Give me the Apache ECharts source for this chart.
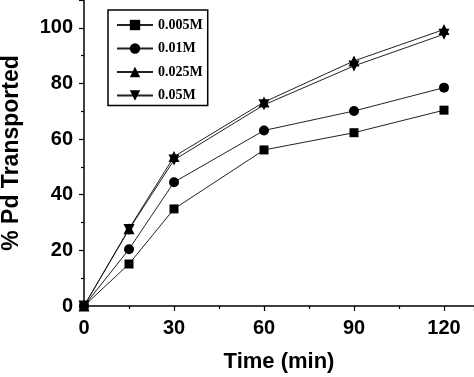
<!DOCTYPE html>
<html>
<head>
<meta charset="utf-8">
<script src="https://cdn.jsdelivr.net/npm/echarts@6/dist/echarts.min.js"></script>
<style>
  html, body { margin: 0; padding: 0; background: #fff; }
  #chart { width: 474px; height: 377px; }
</style>
</head>
<body>
<div id="chart"></div>
<script>
// ----- data -----
const times = [0, 15, 30, 60, 90, 120];
const seriesNames = ['0.005M', '0.01M', '0.025M', '0.05M'];
const pd005 = [0, 15.1, 34.9, 56.1, 62.3, 70.4];
const pd01 = [0, 20.4, 44.5, 63.1, 70.1, 78.5];
const pd025 = [0, 27.8, 53.7, 73.3, 88.1, 99.4];
const pd05 = [0, 27.5, 52.5, 72.3, 86.3, 97.7];
const xTickLabels = [0, 30, 60, 90, 120];
const yTickLabels = [0, 20, 40, 60, 80, 100];

const values = [pd005, pd01, pd025, pd05];
const symbols = ['rect', 'circle', 'triangle', 'triangle'];
const rotates = [0, 0, 0, 180];
const sizes = [9, 10, 11, 11];

function pairs(ys) {
  return times.map((t, i) => [t, ys[i]]);
}

const chart = echarts.init(document.getElementById('chart'), null, { renderer: 'canvas' });

chart.setOption({
  backgroundColor: '#fff',
  animation: false,
  grid: { left: 84, right: 0, top: 0, bottom: 71, containLabel: false, outerBoundsMode: 'none' },
  legend: {
    orient: 'vertical',
    left: 108,
    top: 10,
    padding: [8, 5, 3, 8],
    borderColor: '#000',
    borderWidth: 1.5,
    itemWidth: 36,
    itemHeight: 13,
    itemGap: 9.5,
    textStyle: { fontFamily: 'Liberation Serif', fontWeight: 'bold', fontSize: 14, color: '#000' },
    data: seriesNames
  },
  xAxis: {
    type: 'value',
    min: 0,
    max: 130,
    interval: 30,
    name: 'Time (min)',
    nameLocation: 'middle',
    nameGap: 45,
    nameTextStyle: { fontFamily: 'Liberation Sans', fontWeight: 'bold', fontSize: 22, color: '#000' },
    axisLine: { lineStyle: { color: '#000', width: 1.5 } },
    axisTick: { inside: false, length: 5, lineStyle: { color: '#000', width: 1.2 } },
    minorTick: { show: true, splitNumber: 2, length: 3, lineStyle: { color: '#000', width: 1.2 } },
    splitLine: { show: false },
    axisLabel: {
      margin: 12,
      fontFamily: 'Liberation Sans', fontWeight: 'bold', fontSize: 20, color: '#000',
      formatter: (v) => (xTickLabels.includes(v) ? String(v) : '')
    }
  },
  yAxis: {
    type: 'value',
    min: 0,
    max: 110,
    interval: 20,
    name: '% Pd Transported',
    nameLocation: 'middle',
    nameGap: 61,
    nameTextStyle: { fontFamily: 'Liberation Sans', fontWeight: 'bold', fontSize: 23, color: '#000' },
    axisLine: { show: true, lineStyle: { color: '#000', width: 1.5 } },
    axisTick: { show: true, inside: false, length: 5, lineStyle: { color: '#000', width: 1.2 } },
    minorTick: { show: true, splitNumber: 2, length: 3, lineStyle: { color: '#000', width: 1.2 } },
    splitLine: { show: false },
    axisLabel: {
      margin: 11,
      fontFamily: 'Liberation Sans', fontWeight: 'bold', fontSize: 20, color: '#000',
      formatter: (v) => (yTickLabels.includes(v) ? String(v) : '')
    }
  },
  series: seriesNames.map((name, i) => ({
    name,
    type: 'line',
    data: pairs(values[i]),
    symbol: symbols[i],
    symbolSize: sizes[i],
    symbolRotate: rotates[i],
    showAllSymbol: true,
    clip: false,
    lineStyle: { color: '#222', width: 1 },
    itemStyle: { color: '#000', borderColor: '#000', borderWidth: 0 },
    z: 2 + i
  }))
});
</script>
</body>
</html>
